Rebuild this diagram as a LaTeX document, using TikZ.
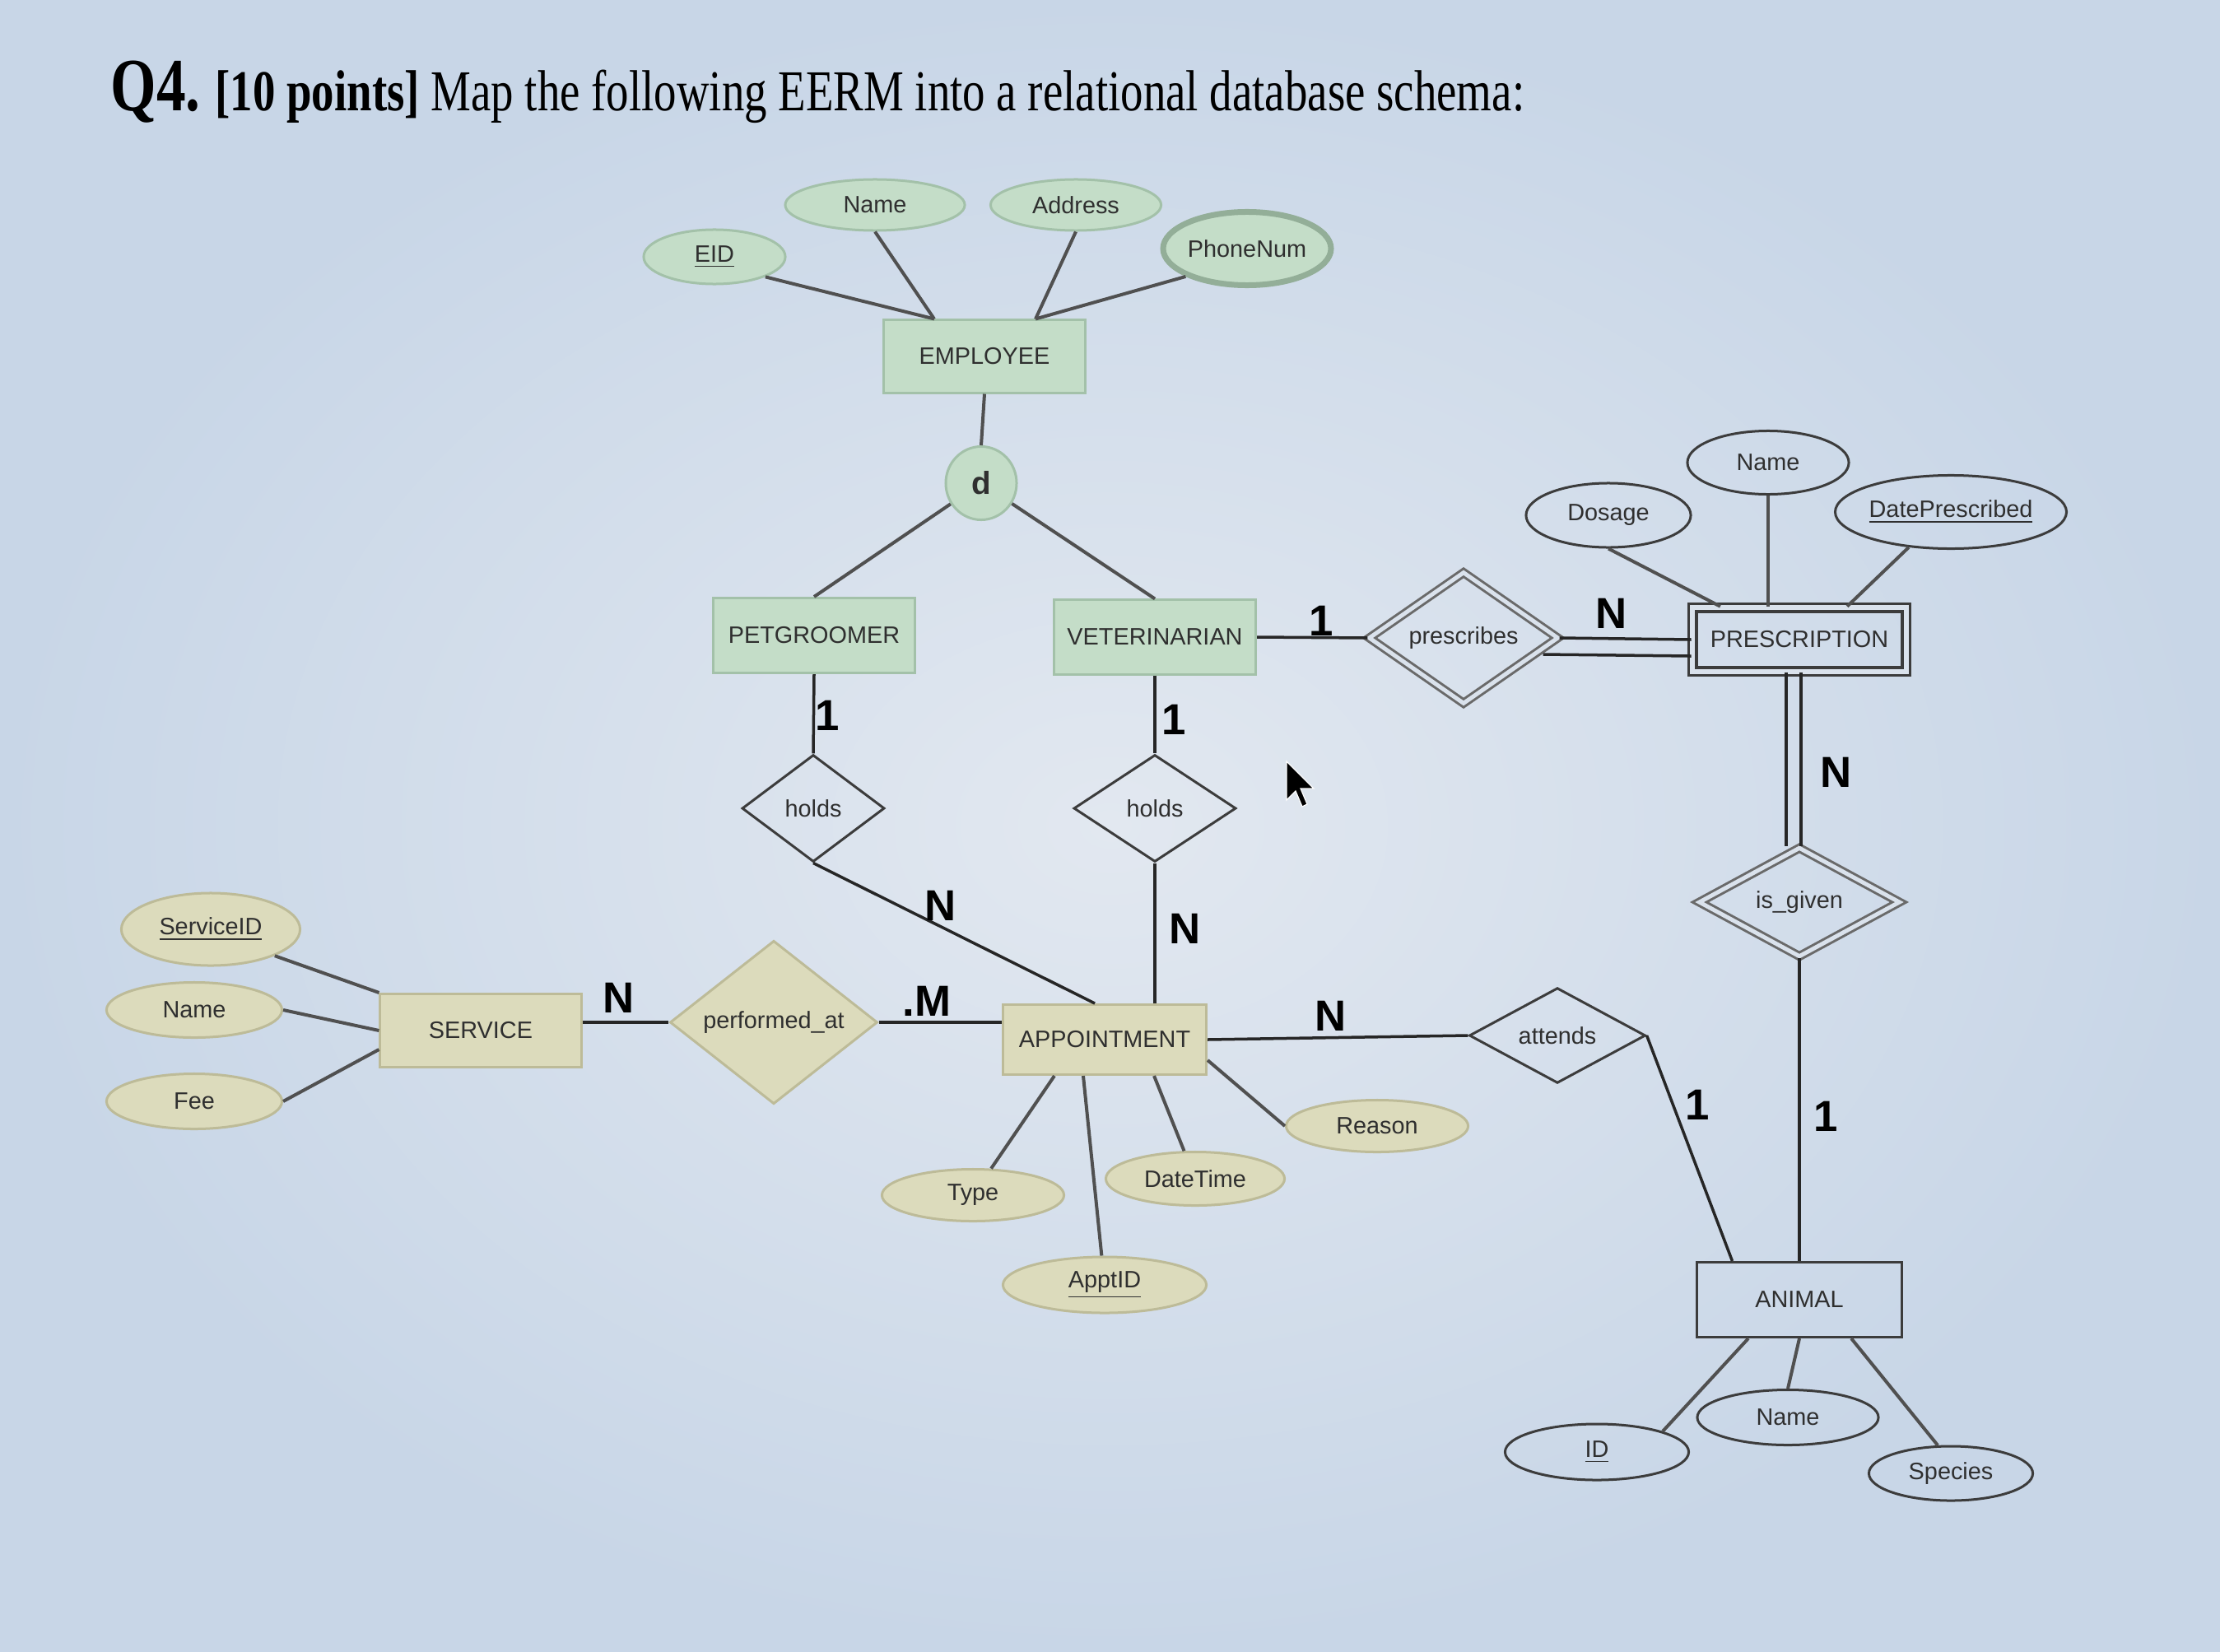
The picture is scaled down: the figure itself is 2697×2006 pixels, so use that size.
\documentclass[tikz,border=0pt]{standalone}
\usepackage{fontspec}
\setmainfont{Liberation Sans}
\newfontfamily\titlefont[FakeStretch=0.78]{Liberation Serif}
\usetikzlibrary{shapes.geometric}
\definecolor{bgin}{HTML}{E2E8F0}
\definecolor{bgout}{HTML}{C8D6E7}
\definecolor{bgmid}{HTML}{DAE2EC}
\definecolor{gfill}{HTML}{C4DDC8}
\definecolor{gdraw}{HTML}{A3C1A9}
\definecolor{tfill}{HTML}{DCDBBC}
\definecolor{tdraw}{HTML}{BDBB98}
\definecolor{dk}{HTML}{3C3C3C}
\definecolor{dkgray}{HTML}{6A6A6A}
\definecolor{ln}{HTML}{505050}
\definecolor{rln}{HTML}{262626}
\definecolor{txt}{HTML}{2F2F2F}
\begin{document}
\begin{tikzpicture}[x=0.01cm,y=-0.01cm,
  lbl/.style={font=\fontsize{8.2}{9}\selectfont, text=txt, inner sep=0},
  ent/.style={lbl, rectangle, line width=0.03cm},
  gent/.style={ent, fill=gfill, draw=gdraw},
  tent/.style={ent, fill=tfill, draw=tdraw},
  went/.style={ent, draw=dk},
  attr/.style={lbl, ellipse, line width=0.03cm},
  gattr/.style={attr, fill=gfill, draw=gdraw},
  tattr/.style={attr, fill=tfill, draw=tdraw},
  wattr/.style={attr, draw=dk},
  rel/.style={lbl, diamond, line width=0.03cm, draw=dk},
  wrel/.style={rel, draw=dkgray, double=bgmid, double distance=0.05cm},
  card/.style={font=\fontsize{15}{15}\selectfont\bfseries, text=black, inner sep=0},
  conn/.style={line width=0.04cm, draw=ln},
  rl/.style={line width=0.035cm, draw=rln}]

\shade[inner color=bgin, outer color=bgout] (0,0) rectangle (2697,2006);
\useasboundingbox (0,0) rectangle (2697,2006);

% title
\node[anchor=base west, inner sep=0, text=black] (title) at (134,135)
  {\titlefont\bfseries\fontsize{26}{26}\selectfont Q4.\ \fontsize{20}{20}\selectfont [10 points] \mdseries Map the following EERM into a relational database schema:};

% EMPLOYEE group
\node[gent, minimum width=2.44cm, minimum height=0.88cm] (emp) at (1196,433) {EMPLOYEE};
\node[gattr, minimum width=1.72cm, minimum height=0.66cm] (eid) at (868,312) {\underline{EID}};
\node[gattr, minimum width=2.18cm, minimum height=0.62cm] (ename) at (1063,249) {Name};
\node[gattr, minimum width=2.07cm, minimum height=0.62cm] (eaddr) at (1307,249) {Address};
\node[gattr, line width=0.07cm, draw=gdraw!90!black, minimum width=1.98cm, minimum height=0.89cm] (ephone) at (1515,302) {PhoneNum};
\node[gattr, minimum width=0.86cm, minimum height=0.89cm, font=\fontsize{11}{11}\selectfont\bfseries] (dnode) at (1192,587) {d};
\node[gent, minimum width=2.45cm, minimum height=0.91cm] (pet) at (989,772) {PETGROOMER};
\node[gent, minimum width=2.45cm, minimum height=0.90cm] (vet) at (1403,774) {VETERINARIAN};

% relationships (top)
\node[rel, minimum width=1.73cm, minimum height=1.30cm] (holdsA) at (988,982) {holds};
\node[rel, minimum width=1.97cm, minimum height=1.30cm] (holdsB) at (1403,982) {holds};
\node[wrel, minimum width=2.30cm, minimum height=1.32cm] (presc) at (1778,775) {prescribes};

% PRESCRIPTION group
\node[went, line width=0.035cm, double=bgmid, double distance=0.06cm, minimum width=2.59cm, minimum height=0.77cm] (pres) at (2186,777) {PRESCRIPTION};
\node[wattr, minimum width=2.00cm, minimum height=0.78cm] (dosage) at (1954,626) {Dosage};
\node[wattr, minimum width=1.96cm, minimum height=0.77cm] (pname) at (2148,562) {Name};
\node[wattr, minimum width=2.48cm, minimum height=0.89cm] (pdate) at (2370,622) {\underline{DatePrescribed}};
\node[wrel, minimum width=2.44cm, minimum height=1.28cm] (isg) at (2186,1096) {is\_given};
\node[rel, minimum width=2.14cm, minimum height=1.12cm] (attends) at (1892,1258) {attends};

% ANIMAL group
\node[went, minimum width=2.48cm, minimum height=0.91cm] (animal) at (2186,1579) {ANIMAL};
\node[wattr, minimum width=2.23cm, minimum height=0.68cm] (aid) at (1940,1764) {\underline{ID}};
\node[wattr, minimum width=2.20cm, minimum height=0.67cm] (aname) at (2172,1722) {Name};
\node[wattr, minimum width=1.99cm, minimum height=0.66cm] (species) at (2370,1790) {Species};

% SERVICE group
\node[tent, minimum width=2.44cm, minimum height=0.89cm] (service) at (584,1252) {SERVICE};
\node[tattr, minimum width=2.17cm, minimum height=0.88cm] (sid) at (256,1129) {\underline{ServiceID}};
\node[tattr, minimum width=2.13cm, minimum height=0.67cm] (sname) at (236,1227) {Name};
\node[tattr, minimum width=2.13cm, minimum height=0.67cm] (fee) at (236,1338) {Fee};
\node[rel, fill=tfill, draw=tdraw, minimum width=2.52cm, minimum height=1.30cm] (perf) at (940,1242) {performed\_at};

% APPOINTMENT group
\node[tent, minimum width=2.47cm, minimum height=0.85cm] (appt) at (1342,1263) {APPOINTMENT};
\node[tattr, minimum width=2.21cm, minimum height=0.63cm] (atype) at (1182,1452) {Type};
\node[tattr, minimum width=2.47cm, minimum height=0.68cm] (apptid) at (1342,1561) {\underline{ApptID}};
\node[tattr, minimum width=2.17cm, minimum height=0.65cm] (datetime) at (1452,1432) {DateTime};
\node[tattr, minimum width=2.21cm, minimum height=0.63cm] (reason) at (1673,1368) {Reason};

% attribute connectors
\draw[conn] (eid.south east) -- ([xshift=-0.61cm]emp.north);
\draw[conn] (ename.south) -- ([xshift=-0.61cm]emp.north);
\draw[conn] (eaddr.south) -- ([xshift=0.62cm]emp.north);
\draw[conn] (ephone.south west) -- ([xshift=0.62cm]emp.north);
\draw[conn] (emp.south) -- (dnode.north);
\draw[conn] (dnode) -- (pet.north);
\draw[conn] (dnode) -- (vet.north);
\draw[conn] (dosage.south) -- ([xshift=-0.96cm]pres.north);
\draw[conn] (pname.south) -- (pname.south |- pres.north);
\draw[conn] (pdate.-140) -- ([xshift=0.58cm]pres.north);
\draw[conn] (sid.south east) -- (service.north west);
\draw[conn] (sname.east) -- (service.west);
\draw[conn] (fee.east) -- ([yshift=-0.23cm]service.west);
\draw[conn] ([xshift=-0.61cm]appt.south) -- (atype);
\draw[conn] ([xshift=-0.26cm]appt.south) -- (apptid);
\draw[conn] ([xshift=0.60cm]appt.south) -- (datetime);
\draw[conn] ([yshift=-0.25cm]appt.east) -- (reason.west);
\draw[conn] ([xshift=-0.62cm]animal.south) -- (aid.north east);
\draw[conn] (animal.south) -- (aname.north);
\draw[conn] ([xshift=0.63cm]animal.south) -- (species.115);

% relationship connectors
\draw[rl] (pet.south) -- (holdsA.north);
\draw[rl] (vet.south) -- (holdsB.north);
\draw[rl] (vet.east) -- (presc.west);
\draw[rl] (presc.east) -- (pres.west);
\draw[rl] ([xshift=-0.2cm,yshift=-0.2cm]presc.east) -- ([yshift=-0.2cm]pres.west);
\draw[rl] ([xshift=-0.16cm]pres.south) -- ([xshift=-0.16cm]isg.north);
\draw[rl] ([xshift=0.02cm]pres.south) -- ([xshift=0.02cm]isg.north);
\draw[rl] (isg.south) -- (animal.north);
\draw[rl] (attends.east) -- ([xshift=0.44cm]animal.north west);
\draw[rl] (appt.east) -- (attends.west);
\draw[rl] (holdsA.south) -- ([xshift=-0.12cm]appt.north);
\draw[rl] (holdsB.south) -- (holdsB.south |- appt.north);
\draw[rl] (service.east |- perf.west) -- (perf.west);
\draw[rl] (perf.east) -- (perf.east -| appt.west);

% cardinalities
\node[card] (c1) at (1605,754) {1};
\node[card] (c2) at (1958,745) {N};
\node[card] (c3) at (2231,938) {N};
\node[card] (c4) at (1005,869) {1};
\node[card] (c5) at (1426,874) {1};
\node[card] (c6) at (1143,1100) {N};
\node[card] (c7) at (1440,1128) {N};
\node[card] (c8) at (752,1212) {N};
\node[card] (c9) at (1126,1216) {.M};
\node[card] (c10) at (1617,1234) {N};
\node[card] (c11) at (2062,1342) {1};
\node[card] (c12) at (2218,1356) {1};

% mouse pointer
\filldraw[fill=black, draw=white, line width=0.012cm]
  (1563,925) -- (1563,972) -- (1574,961) -- (1582,980) -- (1588,977) -- (1580,958) -- (1596,958) -- cycle;
\end{tikzpicture}
\end{document}
